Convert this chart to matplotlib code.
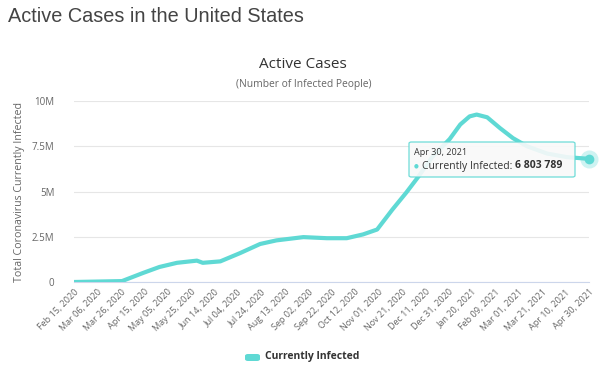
import matplotlib.pyplot as plt
import matplotlib.dates as mdates
import numpy as np
import pandas as pd
from matplotlib.patches import FancyBboxPatch

# active cases (millions)
dates = ['2020-02-15', '2020-03-27', '2020-04-14', '2020-04-28', '2020-05-13',
         '2020-05-30', '2020-06-04', '2020-06-19', '2020-07-06', '2020-07-23',
         '2020-08-06', '2020-08-29', '2020-09-18', '2020-10-05', '2020-10-19',
         '2020-10-31', '2020-11-13', '2020-11-25', '2020-12-05', '2020-12-17',
         '2021-01-01', '2021-01-10', '2021-01-18', '2021-01-24', '2021-02-02',
         '2021-02-13', '2021-02-24', '2021-03-08', '2021-03-25', '2021-04-11',
         '2021-04-30']
active = [0.0, 0.05, 0.5, 0.83, 1.06,
          1.18, 1.06, 1.14, 1.6, 2.1,
          2.3, 2.48, 2.42, 2.42, 2.63,
          2.9, 4.0, 4.95, 5.8, 6.9,
          7.9, 8.7, 9.15, 9.25, 9.1,
          8.5, 7.95, 7.5, 7.1, 6.9,
          6.803789]

tick_dates = pd.date_range('2020-02-15', '2021-04-30', freq='20D')
yticks = [0, 2.5, 5, 7.5, 10]
yticklabels = ['0', '2.5M', '5M', '7.5M', '10M']

teal = '#5fd9d4'
grey = '#666666'

x = pd.to_datetime(dates)

fig = plt.figure(figsize=(6.02, 3.65), dpi=100)
ax = fig.add_axes([74/602, 1-282/365, 515/602, 181/365])

ax.plot(x, active, color=teal, lw=3, solid_capstyle='round', zorder=3)
# hover marker on last point
ax.plot(x[-1:], active[-1:], 'o', ms=13, color=teal, alpha=0.3, mec='none', zorder=4, clip_on=False)
ax.plot(x[-1:], active[-1:], 'o', ms=7, color=teal, mec='none', zorder=5, clip_on=False)

ax.set_xlim(pd.Timestamp('2020-02-15'), pd.Timestamp('2021-04-30'))
ax.set_ylim(0, 10)
ax.set_yticks(yticks)
ax.set_yticklabels(yticklabels, fontsize=7, color=grey, family='Open Sans')
ax.set_xticks(tick_dates)
ax.set_xticklabels([d.strftime('%b %d, %Y') for d in tick_dates], rotation=45,
                   ha='right', rotation_mode='anchor', fontsize=6.5, color=grey,
                   family='Open Sans')
ax.tick_params(axis='y', length=0, pad=14)
ax.tick_params(axis='x', length=0, pad=4)
ax.grid(axis='y', color='#e6e6e6', lw=0.8)
ax.set_axisbelow(True)
for s in ['top', 'right', 'left']:
    ax.spines[s].set_visible(False)
ax.spines['bottom'].set_color('#ccd6eb')
ax.spines['bottom'].set_linewidth(0.8)
ax.set_ylabel('Total Coronavirus Currently Infected', fontsize=7.7, color=grey,
              family='Open Sans', labelpad=5)

fig.text(8/602, 1-16/365, 'Active Cases in the United States', fontsize=14.3,
         color='#444444', family='Liberation Sans', va='center')
fig.text(303/602, 1-64/365, 'Active Cases', fontsize=11, color='#333333',
         family='Open Sans', ha='center', va='center')
fig.text(304/602, 1-84/365, '(Number of Infected People)', fontsize=7.4,
         color=grey, family='Open Sans', ha='center', va='center')

# tooltip
box = FancyBboxPatch((409/602, 1-177/365), 166/602, 35/365,
                     boxstyle='round,pad=0,rounding_size=0.004',
                     transform=fig.transFigure, fc='#f9f9f9', ec=teal,
                     lw=0.9, alpha=0.9, zorder=10)
fig.patches.append(box)
fig.text(414/602, 1-153/365, 'Apr 30, 2021', fontsize=6.5, color='#333333',
         family='Open Sans', va='center', zorder=11)
fig.text(414/602, 1-166/365, '\u25CF', fontsize=4, color=teal, va='center', zorder=11)
fig.text(422/602, 1-166/365, 'Currently Infected: ', fontsize=7.5, color='#333333',
         family='Open Sans', va='center', zorder=11)
fig.text(515/602, 1-166/365, '6 803 789', fontsize=7.5, color='#333333',
         family='Open Sans', weight='bold', va='center', zorder=11)

# legend
fig.patches.append(FancyBboxPatch((245/602, 1-361/365), 15/602, 7/365,
                   boxstyle='round,pad=0,rounding_size=0.005',
                   transform=fig.transFigure, fc=teal, ec='none'))
fig.text(265/602, 1-357/365, 'Currently Infected', fontsize=7.5, color='#333333',
         family='Open Sans', weight='bold', va='center')

fig.savefig('out.png', dpi=100)
